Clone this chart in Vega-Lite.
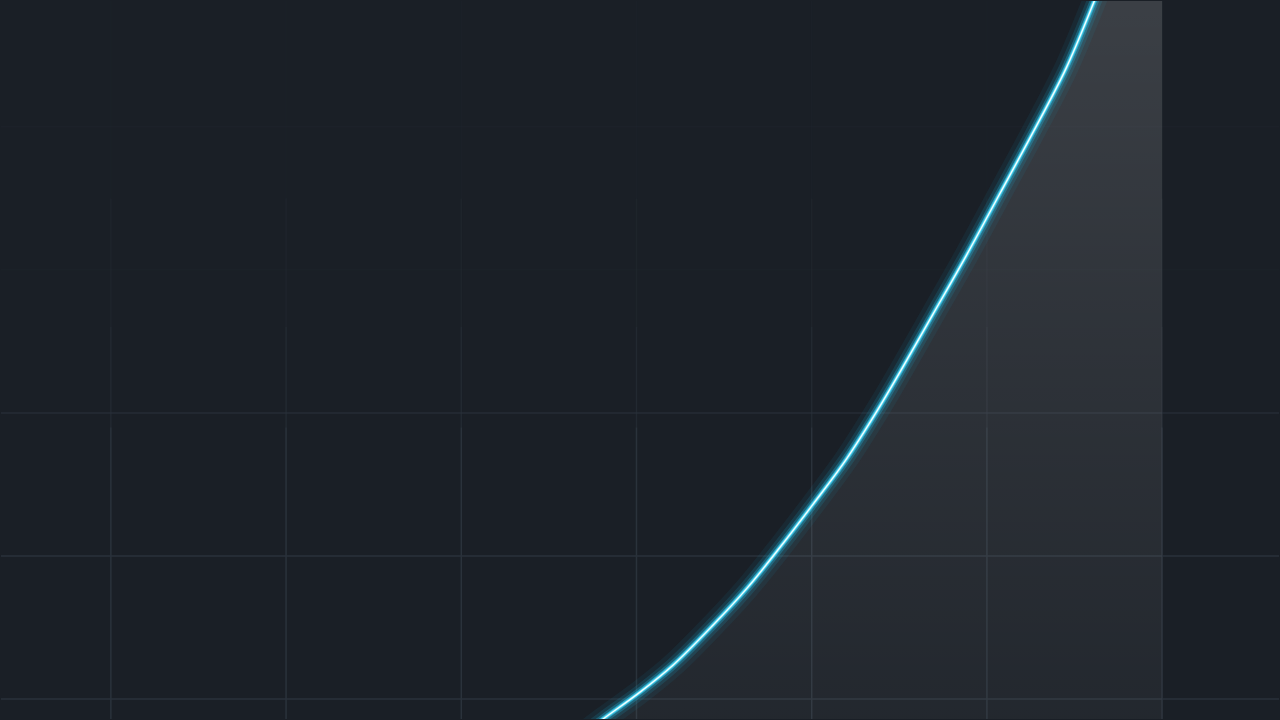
{
  "$schema": "https://vega.github.io/schema/vega-lite/v6.json",
  "width": 1280,
  "height": 720,
  "autosize": {"type": "fit", "contains": "padding"},
  "padding": 0,
  "background": "#1a1f26",
  "config": {"view": {"stroke": null}},
  "datasets": {
    "curve": [
      {"x": 2.621, "y": -0.314},
      {"x": 2.809, "y": -0.139},
      {"x": 3.020, "y": 0.049},
      {"x": 3.208, "y": 0.237},
      {"x": 3.436, "y": 0.516},
      {"x": 3.630, "y": 0.774},
      {"x": 3.818, "y": 1.059},
      {"x": 4.006, "y": 1.359},
      {"x": 4.199, "y": 1.679},
      {"x": 4.387, "y": 2.042},
      {"x": 4.501, "y": 2.279},
      {"x": 4.689, "y": 2.683},
      {"x": 4.883, "y": 3.101},
      {"x": 5.071, "y": 3.526},
      {"x": 5.259, "y": 3.951},
      {"x": 5.453, "y": 4.411},
      {"x": 5.613, "y": 4.878},
      {"x": 5.670, "y": 5.052}
    ],
    "vgrid": [{"g": 0}, {"g": 1}, {"g": 2}, {"g": 3}, {"g": 4}, {"g": 5}, {"g": 6}],
    "hgrid": [{"g": 0}, {"g": 1}, {"g": 2}, {"g": 3}, {"g": 4}]
  },
  "layer": [
    {
      "data": {"name": "vgrid"},
      "mark": {"type": "rule", "color": "#2a323b", "strokeWidth": 1.5, "opacity": 1},
      "encoding": {
        "x": {"field": "g", "type": "quantitative", "scale": {"domain": [-0.627, 6.667], "nice": false, "zero": false}, "axis": null},
        "y": {"datum": -0.139, "type": "quantitative", "scale": {"domain": [-0.139, 4.878], "nice": false, "zero": false}, "axis": null},
        "y2": {"datum": 1.9}
      }
    },
    {
      "data": {"name": "vgrid"},
      "mark": {"type": "rule", "color": "#2a323b", "strokeWidth": 1.5, "opacity": 0.55},
      "encoding": {
        "x": {"field": "g", "type": "quantitative", "scale": {"domain": [-0.627, 6.667], "nice": false, "zero": false}, "axis": null},
        "y": {"datum": 1.9, "type": "quantitative", "scale": {"domain": [-0.139, 4.878], "nice": false, "zero": false}, "axis": null},
        "y2": {"datum": 2.6}
      }
    },
    {
      "data": {"name": "vgrid"},
      "mark": {"type": "rule", "color": "#2a323b", "strokeWidth": 1.5, "opacity": 0.25},
      "encoding": {
        "x": {"field": "g", "type": "quantitative", "scale": {"domain": [-0.627, 6.667], "nice": false, "zero": false}, "axis": null},
        "y": {"datum": 2.6, "type": "quantitative", "scale": {"domain": [-0.139, 4.878], "nice": false, "zero": false}, "axis": null},
        "y2": {"datum": 3.5}
      }
    },
    {
      "data": {"name": "vgrid"},
      "mark": {"type": "rule", "color": "#2a323b", "strokeWidth": 1.5, "opacity": 0.1},
      "encoding": {
        "x": {"field": "g", "type": "quantitative", "scale": {"domain": [-0.627, 6.667], "nice": false, "zero": false}, "axis": null},
        "y": {"datum": 3.5, "type": "quantitative", "scale": {"domain": [-0.139, 4.878], "nice": false, "zero": false}, "axis": null},
        "y2": {"datum": 4.878}
      }
    },
    {
      "data": {"name": "hgrid"},
      "mark": {"type": "rule", "color": "#2a323b", "strokeWidth": 1.5},
      "encoding": {
        "y": {"field": "g", "type": "quantitative", "scale": {"domain": [-0.139, 4.878], "nice": false, "zero": false}, "axis": null},
        "opacity": {"field": "g", "type": "quantitative", "scale": {"domain": [0, 1, 2, 3, 4], "range": [1, 1, 0.75, 0.12, 0.15]}, "legend": null}
      }
    },
    {
      "data": {"name": "curve"},
      "mark": {
        "type": "area",
        "orient": "horizontal",
        "interpolate": "catmull-rom",
        "clip": true,
        "fill": {
          "gradient": "linear", "x1": 0, "y1": 0, "x2": 0, "y2": 1,
          "stops": [
            {"offset": 0, "color": "rgba(255,255,255,0.15)"},
            {"offset": 0.5, "color": "rgba(255,255,255,0.085)"},
            {"offset": 1, "color": "rgba(255,255,255,0.035)"}
          ]
        }
      },
      "encoding": {
        "y": {"field": "y", "type": "quantitative", "scale": {"domain": [-0.139, 4.878], "nice": false, "zero": false}, "axis": null},
        "x": {"field": "x", "type": "quantitative", "scale": {"domain": [-0.627, 6.667], "nice": false, "zero": false}, "axis": null},
        "x2": {"datum": 6}
      }
    },
    {
      "data": {"name": "curve"},
      "mark": {"type": "line", "interpolate": "catmull-rom", "clip": true, "color": "#1fa9d0", "strokeWidth": 24, "opacity": 0.08},
      "encoding": {
        "x": {"field": "x", "type": "quantitative", "scale": {"domain": [-0.627, 6.667], "nice": false, "zero": false}, "axis": null},
        "y": {"field": "y", "type": "quantitative", "scale": {"domain": [-0.139, 4.878], "nice": false, "zero": false}, "axis": null}
      }
    },
    {
      "data": {"name": "curve"},
      "mark": {"type": "line", "interpolate": "catmull-rom", "clip": true, "color": "#1fa9d0", "strokeWidth": 15, "opacity": 0.16},
      "encoding": {
        "x": {"field": "x", "type": "quantitative", "scale": {"domain": [-0.627, 6.667], "nice": false, "zero": false}, "axis": null},
        "y": {"field": "y", "type": "quantitative", "scale": {"domain": [-0.139, 4.878], "nice": false, "zero": false}, "axis": null}
      }
    },
    {
      "data": {"name": "curve"},
      "mark": {"type": "line", "interpolate": "catmull-rom", "clip": true, "color": "#22b2da", "strokeWidth": 9, "opacity": 0.32},
      "encoding": {
        "x": {"field": "x", "type": "quantitative", "scale": {"domain": [-0.627, 6.667], "nice": false, "zero": false}, "axis": null},
        "y": {"field": "y", "type": "quantitative", "scale": {"domain": [-0.139, 4.878], "nice": false, "zero": false}, "axis": null}
      }
    },
    {
      "data": {"name": "curve"},
      "mark": {"type": "line", "interpolate": "catmull-rom", "clip": true, "color": "#2dbde2", "strokeWidth": 5, "opacity": 0.7},
      "encoding": {
        "x": {"field": "x", "type": "quantitative", "scale": {"domain": [-0.627, 6.667], "nice": false, "zero": false}, "axis": null},
        "y": {"field": "y", "type": "quantitative", "scale": {"domain": [-0.139, 4.878], "nice": false, "zero": false}, "axis": null}
      }
    },
    {
      "data": {"name": "curve"},
      "mark": {"type": "line", "interpolate": "catmull-rom", "clip": true, "color": "#55d6f0", "strokeWidth": 3, "opacity": 0.95},
      "encoding": {
        "x": {"field": "x", "type": "quantitative", "scale": {"domain": [-0.627, 6.667], "nice": false, "zero": false}, "axis": null},
        "y": {"field": "y", "type": "quantitative", "scale": {"domain": [-0.139, 4.878], "nice": false, "zero": false}, "axis": null}
      }
    },
    {
      "data": {"name": "curve"},
      "mark": {"type": "line", "interpolate": "catmull-rom", "clip": true, "color": "#f2ffff", "strokeWidth": 1.4, "opacity": 1},
      "encoding": {
        "x": {"field": "x", "type": "quantitative", "scale": {"domain": [-0.627, 6.667], "nice": false, "zero": false}, "axis": null},
        "y": {"field": "y", "type": "quantitative", "scale": {"domain": [-0.139, 4.878], "nice": false, "zero": false}, "axis": null}
      }
    }
  ]
}
